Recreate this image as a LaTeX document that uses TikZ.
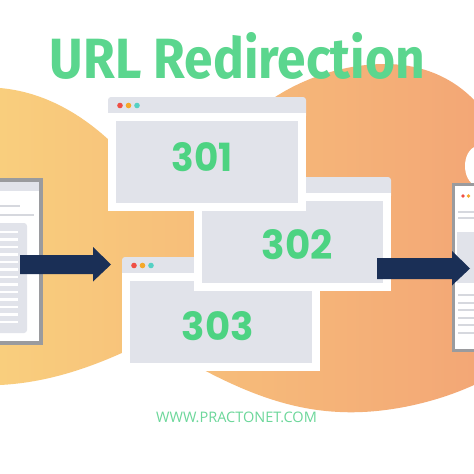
\documentclass[tikz,border=0pt]{standalone}
\usepackage{fontspec}
\newfontfamily\titlefont{Fira Sans}
\newfontfamily\numfont{Poppins}
\newfontfamily\urlfont{Open Sans}
\definecolor{grn}{HTML}{5BD68E}
\definecolor{numgrn}{HTML}{4DD382}
\definecolor{urlgrn}{HTML}{6CD79A}
\definecolor{barg}{HTML}{E1E3EA}
\definecolor{navy}{HTML}{1A2F56}
\definecolor{frameg}{HTML}{9A9B9E}
\definecolor{lineg}{HTML}{D6D8DE}
\definecolor{dotr}{HTML}{EF4F45}
\definecolor{doty}{HTML}{F5A92A}
\definecolor{dott}{HTML}{55D1C4}
\definecolor{blobL}{HTML}{F9CE7D}
\definecolor{blobR}{HTML}{F3A776}
\tikzset{
  numtext/.style={inner sep=0pt, text=numgrn},
  arrowfill/.style={fill=navy},
  panel/.style={fill=barg},
  thinline/.style={draw=lineg, line width=2pt},
  whiteline/.style={draw=white, line width=2.2pt}
}
% #1 name, #2 x1, #3 top, #4 x2, #5 bottom
\newcommand{\bwin}[5]{%
  \fill[barg, rounded corners=3pt] (#2,#3) rectangle (#4,#3+22);
  \fill[white] (#2,#3+16) rectangle (#4,#5);
  \fill[panel] (#2+8,#3+24) rectangle (#4-8,#5-8);
  \fill[dotr] (#2+12,#3+8.5) circle (2.8);
  \fill[doty] (#2+20.5,#3+8.5) circle (2.8);
  \fill[dott] (#2+29,#3+8.5) circle (2.8);
  \coordinate (#1) at ({(#2+#4)/2},{(#3+#5+16)/2});
}
\begin{document}
\begin{tikzpicture}[x=1pt,y=-1pt]
\useasboundingbox (0,0) rectangle (474,474);
\fill[white] (0,0) rectangle (474,474);
% background blob
\shade[left color=blobL, right color=blobR]
  (0,88) .. controls (45,92) and (82,115) .. (110,141) -- (200,150) -- (265,104)
  .. controls (300,78) and (345,64) .. (385,64)
  .. controls (425,64) and (455,80) .. (474,100) -- (474,385)
  .. controls (430,405) and (380,414) .. (340,412)
  .. controls (290,410) and (245,392) .. (200,368) -- (160,330) -- (124,352)
  .. controls (80,372) and (40,383) .. (0,385) -- cycle;
\fill[white] (477,146) .. controls (461,150) and (461,182) .. (477,186) -- cycle;
% title
\node[inner sep=0pt, text=grn] (title) at (237.5,55.5)
  {\resizebox{375pt}{46pt}{\titlefont\bfseries URL Redirection}};
% windows (back to front)
\bwin{w303}{122}{257}{320}{371}
\bwin{w302}{194}{177}{391}{291}
\bwin{w301}{108}{97}{306}{211}
\node[numtext] (n301) at (202.5,157.5) {\resizebox{61pt}{29pt}{\numfont\bfseries 301}};
\node[numtext] (n302) at (297.5,245) {\resizebox{71pt}{30pt}{\numfont\bfseries 302}};
\node[numtext] (n303) at (218,326.5) {\resizebox{72pt}{29pt}{\numfont\bfseries 303}};
% left browser
\fill[frameg] (-5,178) rectangle (43,345);
\fill[white] (-5,182) rectangle (39,341);
\fill[barg] (-5,182) rectangle (39,191);
\draw[thinline] (-2,206) -- (20,206);
\draw[thinline] (-2,215) -- (34,215);
\fill[panel, rounded corners=3pt] (-8,223) rectangle (27,333);
\foreach \yy in {232,239.5,...,323} {\draw[whiteline] (-5,\yy) -- (18,\yy);}
% right browser
\fill[frameg] (452,183) rectangle (480,352);
\fill[white] (455,186) rectangle (480,349);
\fill[dotr] (463,196) circle (1.9);
\fill[doty] (468.5,196) circle (1.9);
\draw[thinline] (458,212) -- (480,212);
\draw[thinline] (458,218) -- (480,218);
\fill[panel] (457,232) rectangle (480,283);
\foreach \yy in {295,302.5,...,334} {\draw[thinline] (458,\yy) -- (480,\yy);}
% arrows
\coordinate (la) at (20,264.5);
\coordinate (ra) at (377,268.5);
\fill[arrowfill] (la) ++(0,-9.5) -- ++(73,0) -- ++(0,-8) -- (111,264.5) -- (93,281.5) -- ++(0,-7.5) -- (20,274) -- cycle;
\fill[arrowfill] (ra) ++(0,-10.5) -- ++(75,0) -- ++(0,-7) -- (470,268.5) -- (452,285.5) -- ++(0,-6.5) -- (377,279) -- cycle;
% footer
\node[inner sep=0pt, text=urlgrn] (url) at (236.5,417)
  {\urlfont\fontsize{14.5}{16}\selectfont WWW.PRACTONET.COM};
\end{tikzpicture}
\end{document}
